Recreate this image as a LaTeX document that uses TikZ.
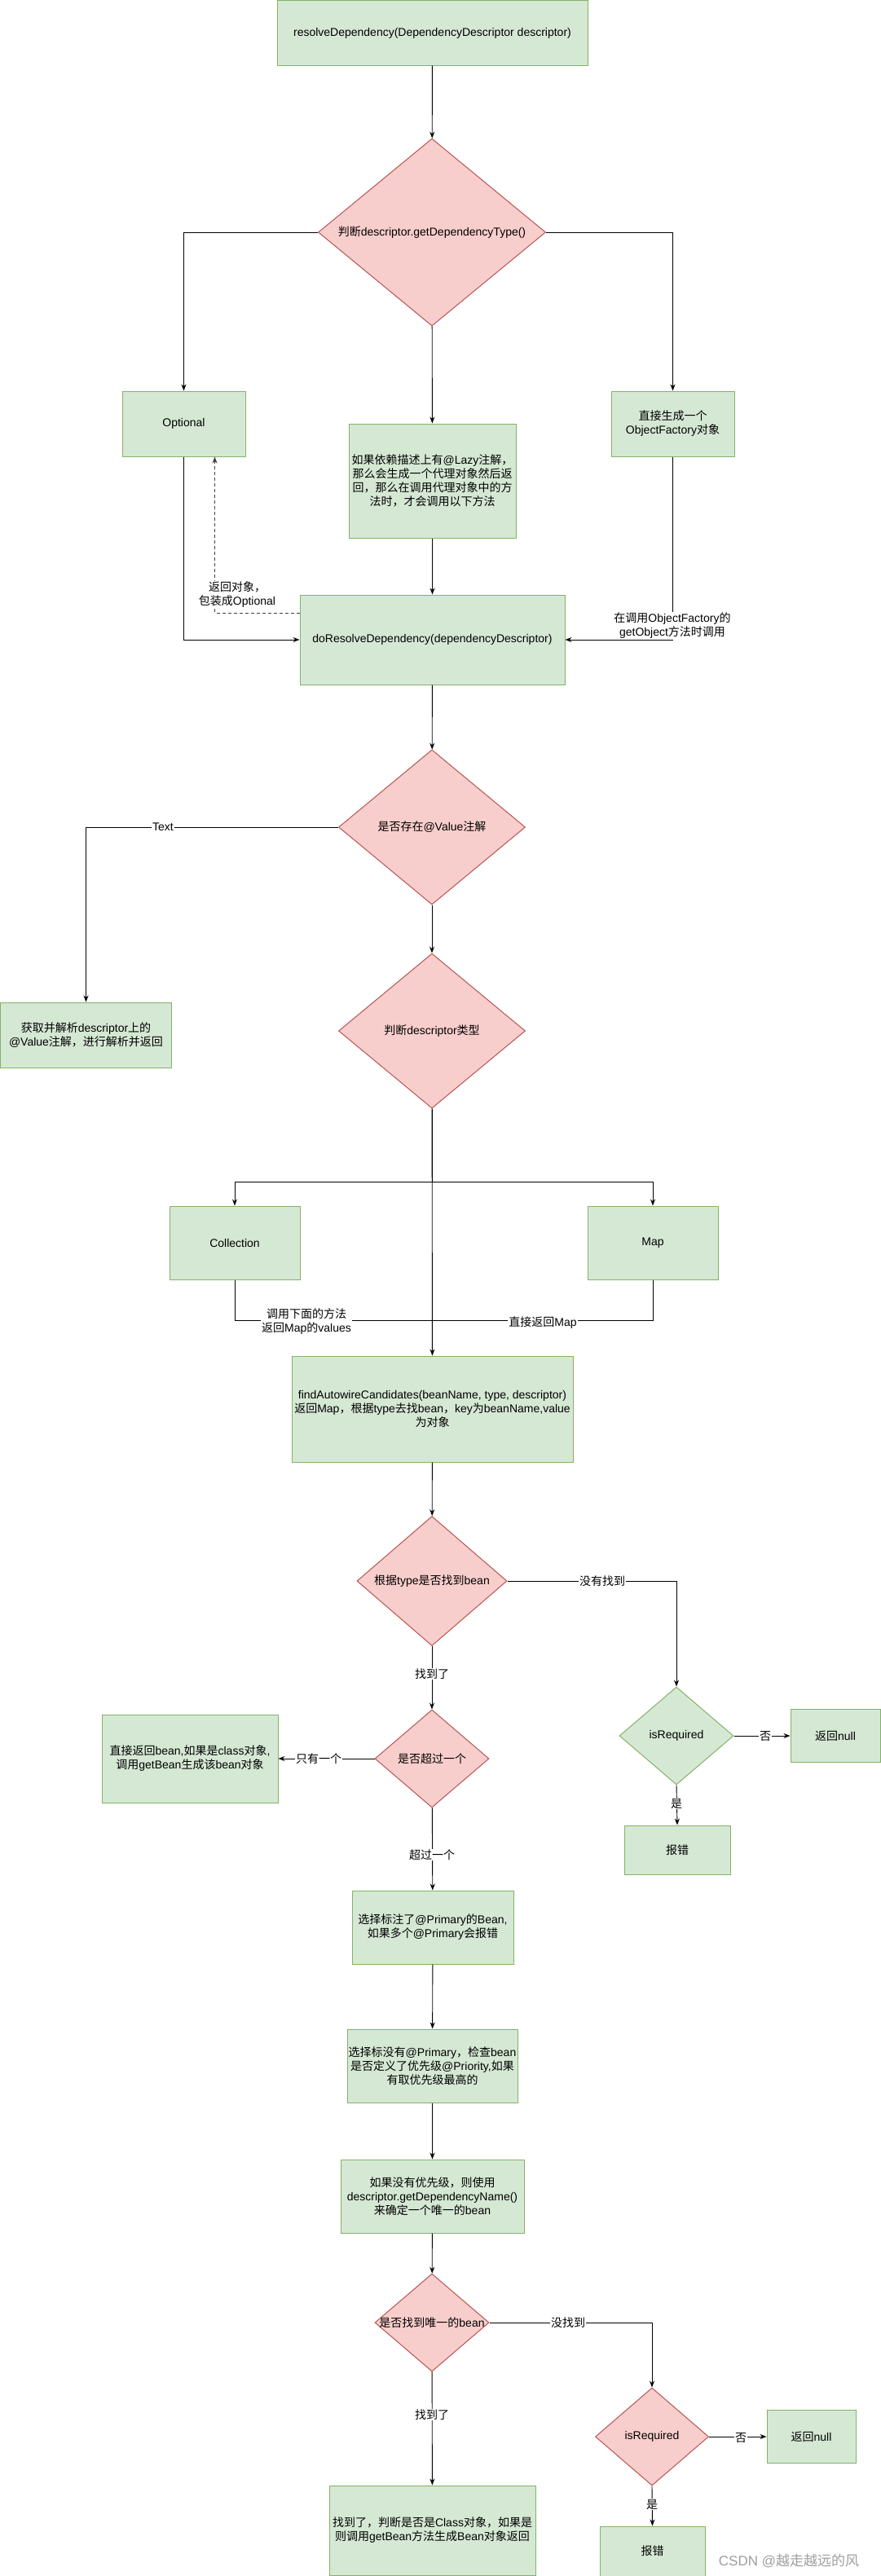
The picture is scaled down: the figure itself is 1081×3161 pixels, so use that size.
\documentclass[tikz,border=0pt]{standalone}
\usepackage{fontspec}
\setmainfont{Liberation Sans}
\newfontfamily\latinfont{Liberation Sans}
\newfontfamily\cjk{Noto Sans CJK SC}
\usetikzlibrary{shapes.geometric,arrows.meta,calc}
\XeTeXinterchartokenstate=1
\newXeTeXintercharclass\cjkcls
\newcount\cjkc
\def\setcjkrange#1#2{\cjkc=#1\relax\loop \XeTeXcharclass\cjkc=\cjkcls\relax \ifnum\cjkc<#2\relax\advance\cjkc by 1\relax\repeat}
\setcjkrange{"3000}{"303F}
\setcjkrange{"4E00}{"9FFF}
\setcjkrange{"FF00}{"FFEF}
\XeTeXinterchartoks 0 \cjkcls = {\cjk}
\XeTeXinterchartoks 4095 \cjkcls = {\cjk}
\XeTeXinterchartoks \cjkcls 0 = {\latinfont}
\XeTeXinterchartoks 4095 0 = {\latinfont}
\definecolor{gfill}{HTML}{D5E8D4}
\definecolor{gstroke}{HTML}{82B366}
\definecolor{rfill}{HTML}{F8CECC}
\definecolor{rstroke}{HTML}{B85450}
\newcommand\fs{\fontsize{14}{17}\selectfont}
\tikzset{
  gbox/.style={draw=gstroke, fill=gfill, line width=1pt, align=center, inner sep=0pt, font=\fs},
  rdia/.style={diamond, draw=rstroke, fill=rfill, line width=1pt, inner sep=0pt},
  gdia/.style={diamond, draw=gstroke, fill=gfill, line width=1pt, inner sep=0pt},
  dlab/.style={font=\fs, align=center, inner sep=0pt},
  arr/.style={-{Stealth[length=8pt,width=6pt]}, line width=0.9pt},
  ln/.style={line width=0.9pt},
  dsh/.style={dashed, dash pattern=on 4pt off 3pt, line width=0.9pt, draw=black!75, -{Stealth[length=8pt,width=6pt]}},
  elab/.style={fill=white, inner sep=1pt, align=center, font=\fs},
}
\begin{document}
\begin{tikzpicture}[x=1pt,y=-1pt]
\fill[white] (0,0) rectangle (1081,3161);
\useasboundingbox (0,0) rectangle (1081,3161);

% nodes
\node[gbox, minimum width=381pt, minimum height=79pt] (top) at (530.5,40.5) {resolveDependency(DependencyDescriptor descriptor)};
\node[rdia, minimum width=279pt, minimum height=230pt, label={[dlab]center:判断descriptor.getDependencyType()}] (d1) at (530,285) {};
\node[gbox, minimum width=151pt, minimum height=80pt] (opt) at (225.5,520) {Optional};
\node[gbox, minimum width=151pt, minimum height=80pt] (obf) at (825.5,520) {直接生成一个\\ObjectFactory对象};
\node[gbox, minimum width=205pt, minimum height=140pt] (lazy) at (530.5,590) {如果依赖描述上有@Lazy注解，\\那么会生成一个代理对象然后返\\回，那么在调用代理对象中的方\\法时，才会调用以下方法};
\node[gbox, minimum width=325pt, minimum height=110pt] (doR) at (530.5,785) {doResolveDependency(dependencyDescriptor)};
\node[rdia, minimum width=229pt, minimum height=190pt, label={[dlab]center:是否存在@Value注解}] (d2) at (530,1015) {};
\node[gbox, minimum width=210pt, minimum height=80pt] (val) at (105.5,1270) {获取并解析descriptor上的\\@Value注解，进行解析并返回};
\node[rdia, minimum width=229pt, minimum height=190pt, label={[dlab]center:判断descriptor类型}] (d3) at (530,1265) {};
\node[gbox, minimum width=160pt, minimum height=90pt] (col) at (288,1525) {Collection};
\node[gbox, minimum width=160pt, minimum height=90pt] (map) at (801,1525) {Map};
\node[gbox, minimum width=345pt, minimum height=130pt] (fa) at (530.5,1729) {findAutowireCandidates(beanName, type, descriptor)\\返回Map，根据type去找bean，key为beanName,value\\为对象};
\node[rdia, minimum width=184pt, minimum height=159pt, label={[dlab]center:根据type是否找到bean}] (d4) at (530,1940) {};
\node[rdia, minimum width=140pt, minimum height=120pt, label={[dlab]center:是否超过一个}] (d5) at (530,2158) {};
\node[gbox, minimum width=216pt, minimum height=108pt] (direct) at (233,2158) {直接返回bean,如果是class对象,\\调用getBean生成该bean对象};
\node[gdia, minimum width=140pt, minimum height=120pt, label={[dlab]center:isRequired}] (req1) at (830,2130) {};
\node[gbox, minimum width=110pt, minimum height=65pt] (null1) at (1025,2130) {返回null};
\node[gbox, minimum width=130pt, minimum height=60pt] (err1) at (831,2270) {报错};
\node[gbox, minimum width=198pt, minimum height=90pt] (prim) at (531,2365) {选择标注了@Primary的Bean,\\如果多个@Primary会报错};
\node[gbox, minimum width=209pt, minimum height=90pt] (prio) at (530.5,2535) {选择标没有@Primary，检查bean\\是否定义了优先级@Priority,如果\\有取优先级最高的};
\node[gbox, minimum width=225pt, minimum height=90pt] (name) at (530.5,2695) {如果没有优先级，则使用\\descriptor.getDependencyName()\\来确定一个唯一的bean};
\node[rdia, minimum width=140pt, minimum height=120pt, label={[dlab]center:是否找到唯一的bean}] (d6) at (530,2850) {};
\node[gbox, minimum width=253pt, minimum height=110pt] (final) at (530.5,3105) {找到了，判断是否是Class对象，如果是\\则调用getBean方法生成Bean对象返回};
\node[rdia, minimum width=139pt, minimum height=120pt, label={[dlab]center:isRequired}] (req2) at (800,2990) {};
\node[gbox, minimum width=109pt, minimum height=65pt] (null2) at (995.5,2990) {返回null};
\node[gbox, minimum width=129pt, minimum height=61pt] (err2) at (800.5,3130.5) {报错};

% helper coordinates
\coordinate (split) at (530,1450);
\coordinate (join) at (530,1620);

% connectors
\draw[arr] (top) -- (d1);
\draw[arr] (d1.west) -| (opt.north);
\draw[arr] (d1.east) -| (obf.north);
\draw[arr] (d1) -- (lazy);
\draw[arr] (lazy) -- (doR);
\draw[arr] (opt.south) |- (doR.west);
\draw[arr] (obf.south) |- (doR.east);
\draw[dsh] ([yshift=33pt]doR.west) -| ([xshift=38pt]opt.south);
\draw[arr] (doR) -- (d2);
\draw[arr] (d2.west) -| (val.north);
\draw[arr] (d2) -- (d3);
\draw[arr] (d3) -- (fa);
\draw[arr] (d3.south) -- (split) -| (col.north);
\draw[arr] (split) -| (map.north);
\draw[ln] (col.south) |- (join);
\draw[ln] (map.south) |- (join);
\draw[arr] (fa) -- (d4);
\draw[arr] (d4.east) -| (req1.north);
\draw[arr] (d4) -- (d5);
\draw[arr] (d5.west) -- (direct.east);
\draw[arr] (req1.east) -- (null1.west);
\draw[arr] (req1.south) -- (err1.north);
\draw[arr] (d5) -- (prim);
\draw[arr] (prim) -- (prio);
\draw[arr] (prio) -- (name);
\draw[arr] (name) -- (d6);
\draw[arr] (d6.east) -| (req2.north);
\draw[arr] (d6) -- (final);
\draw[arr] (req2.east) -- (null2.west);
\draw[arr] (req2.south) -- (err2.north);

% edge labels
\node[elab] (l1) at (825,768) {在调用ObjectFactory的\\getObject方法时调用};
\node[elab] (l2) at (291,730) {返回对象，\\包装成Optional};
\node[elab] (l3) at (200,1015) {Text};
\node[elab] (l4) at (376,1622) {调用下面的方法\\返回Map的values};
\node[elab] (l5) at (666,1623) {直接返回Map};
\node[elab] (l6) at (739,1940) {没有找到};
\node[elab] (l7) at (530,2054) {找到了};
\node[elab] (l8) at (391,2158) {只有一个};
\node[elab] (l9) at (939,2131) {否};
\node[elab] (l10) at (830,2213) {是};
\node[elab] (l11) at (530,2276) {超过一个};
\node[elab] (l12) at (697,2850) {没找到};
\node[elab] (l13) at (530,2963) {找到了};
\node[elab] (l14) at (909,2992) {否};
\node[elab] (l15) at (800,3073) {是};
\node[font=\fontsize{17}{20}\selectfont, text=black!38, inner sep=0pt] (wm) at (968,3142) {CSDN @越走越远的风};
\end{tikzpicture}
\end{document}
